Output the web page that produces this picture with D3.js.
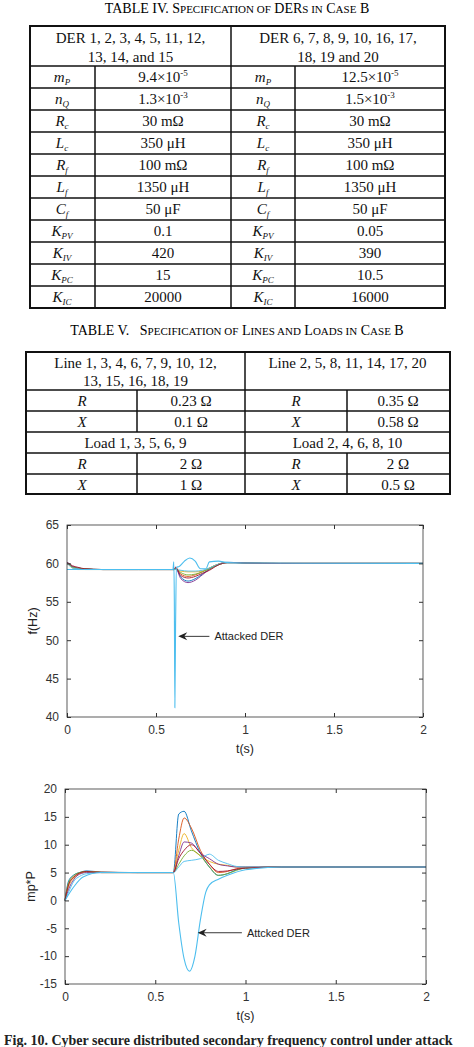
<!DOCTYPE html>
<html><head><meta charset="utf-8">
<script src="https://cdn.jsdelivr.net/npm/d3@7"></script>
<style>body{margin:0;background:#fff}svg{display:block}</style>
</head><body>
<svg id="c" width="474" height="1047"></svg>
<script>
// table IV
const derHeads = [["DER 1, 2, 3, 4, 5, 11, 12,", "13, 14, and 15"], ["DER 6, 7, 8, 9, 10, 16, 17,", "18, 19 and 20"]];
const derSyms = [["m","P"],["n","Q"],["R","c"],["L","c"],["R","f"],["L","f"],["C","f"],["K","PV"],["K","IV"],["K","PC"],["K","IC"]];
const derValsA = [["9.4×10","-5"],["1.3×10","-3"],["30 mΩ"],["350 μH"],["100 mΩ"],["1350 μH"],["50 μF"],["0.1"],["420"],["15"],["20000"]];
const derValsB = [["12.5×10","-5"],["1.5×10","-3"],["30 mΩ"],["350 μH"],["100 mΩ"],["1350 μH"],["50 μF"],["0.05"],["390"],["10.5"],["16000"]];
// table V
const lineHeads = [["Line 1, 3, 4, 6, 7, 9, 10, 12,", "13, 15, 16, 18, 19"], ["Line 2, 5, 8, 11, 14, 17, 20"]];
const lineRows = [["R","0.23 Ω","R","0.35 Ω"],["X","0.1 Ω","X","0.58 Ω"]];
const loadHeads = ["Load 1, 3, 5, 6, 9", "Load 2, 4, 6, 8, 10"];
const loadRows = [["R","2 Ω","R","2 Ω"],["X","1 Ω","X","0.5 Ω"]];

// frequency plot
const tF = [0,0.01,0.03,0.06,0.1,0.2,0.4,0.6,0.61,0.64,0.68,0.72,0.76,0.8,0.85,0.9,0.95,1.0,1.2,2.0];
const fSeries = [
  [60.1,60.0,59.6,59.4,59.3,59.2,59.2,59.2,59.4,58.2,57.7,58.0,58.6,59.3,59.9,60.15,60.1,60.05,60,60],
  [60.0,59.9,59.5,59.3,59.25,59.2,59.2,59.2,59.3,58.6,58.3,58.5,58.9,59.4,59.9,60.1,60.1,60.05,60,60],
  [60.0,59.8,59.4,59.2,59.2,59.2,59.2,59.2,59.2,59.0,58.9,58.9,59.0,59.4,59.9,60.1,60.1,60.05,60,60],
  [60.1,59.9,59.6,59.4,59.3,59.2,59.2,59.2,59.4,58.0,57.5,57.8,58.5,59.2,59.8,60.1,60.1,60.05,60,60],
  [60.0,59.9,59.5,59.4,59.3,59.2,59.2,59.2,59.3,58.8,58.5,58.6,58.9,59.3,59.8,60.1,60.1,60.05,60,60],
  [60.0,59.8,59.4,59.3,59.2,59.2,59.2,59.2,59.2,59.1,59.0,59.0,59.1,59.4,59.9,60.1,60.1,60.05,60,60],
  [60.1,60.0,59.7,59.5,59.3,59.2,59.2,59.2,59.5,58.4,58.1,58.3,58.7,59.1,59.8,60.1,60.1,60.05,60,60]
];
const tFa = [0,0.4,0.595,0.6,0.603,0.606,0.61,0.615,0.63,0.66,0.69,0.72,0.75,0.78,0.8,0.85,0.9,1.0,2.0];
const fAtt = [59.2,59.2,59.2,60.2,55,41.2,52,59.5,59.6,60.3,60.7,60.3,59.3,59.3,60.2,60.3,60.1,60.05,60];

// mp*P plot
const tP = [0,0.02,0.05,0.08,0.12,0.2,0.4,0.6,0.63,0.66,0.7,0.75,0.8,0.85,0.9,0.95,1.0,1.2,1.5,2.0];
const pSeries = [
  [0,3.5,4.6,5.0,5.3,5.1,5.0,5.0,15.5,16.0,12.5,8.5,6.0,4.5,4.8,5.5,5.8,6.0,6.0,6.0],
  [0,3.0,4.3,4.9,5.2,5.1,5.0,5.0,11.0,14.8,13.0,9.0,6.5,5.0,5.2,5.7,5.9,6.0,6.0,6.0],
  [0,2.5,4.0,4.8,5.1,5.0,5.0,5.0,9.0,12.0,9.5,8.0,7.0,6.5,6.3,6.0,6.0,6.0,6.0,6.0],
  [0,2.0,3.8,4.7,5.0,5.0,5.0,5.0,8.0,10.5,10.3,8.5,7.5,6.5,6.2,6.0,6.0,6.0,6.0,6.0],
  [0,3.2,4.5,5.0,5.2,5.0,5.0,5.0,6.5,8.0,9.0,8.0,6.0,4.5,4.8,5.4,5.8,6.0,6.0,6.0],
  [0,1.5,3.5,4.3,4.8,5.0,5.0,5.0,6.0,7.0,7.2,7.5,8.3,7.2,6.6,6.1,6.0,6.0,6.0,6.0],
  [0,2.8,4.2,4.9,5.2,5.0,5.0,5.0,7.5,9.0,10.0,8.5,6.5,5.2,5.3,5.6,5.8,6.0,6.0,6.0]
];
const tPa = [0,0.05,0.1,0.2,0.4,0.6,0.63,0.66,0.69,0.72,0.75,0.78,0.8,0.85,0.9,1.0,1.2,2.0];
const pAtt = [0,2.5,4.2,5.0,5.0,5.0,-4,-10.5,-12.7,-10,-3.5,1.5,2.8,3.8,4.5,5.5,6.0,6.0];

const colors = ["#0072BD","#D95319","#EDB120","#7E2F8E","#77AC30","#4DBEEE","#A2142F"];
const xTicks = [0,0.5,1,1.5,2];

const svg = d3.select("#c");
const serif = "'Liberation Serif', 'DejaVu Serif', serif";
const sans = "'Liberation Sans', Arial, sans-serif";

function cellText(g, x, y, parts, opt) {
  // parts: [main, sub/sup]
  const t = g.append("text").attr("x", x).attr("y", y).attr("text-anchor", "middle")
    .attr("font-family", serif).attr("font-size", 15).attr("fill", "#111");
  if (opt === "sym") {
    t.append("tspan").attr("font-style", "italic").text(parts[0]);
    if (parts[1]) t.append("tspan").attr("font-style", "italic").attr("font-size", 9).attr("dy", 3).text(parts[1]);
  } else {
    t.append("tspan").text(parts[0]);
    if (parts[1]) t.append("tspan").attr("font-size", 9).attr("dy", -6).text(parts[1]);
  }
}

function rect(g, x0, y0, x1, y1, w) {
  return g.append("rect").attr("x", x0).attr("y", y0).attr("width", x1 - x0).attr("height", y1 - y0)
    .attr("fill", "none").attr("stroke", "#111").attr("stroke-width", w);
}

// ---- Table IV
const t4 = svg.append("g");
t4.append("text").attr("x", 237).attr("y", 13).attr("text-anchor", "middle").attr("font-family", serif)
  .attr("font-size", 14).html('TABLE IV. S<tspan font-size="11">PECIFICATION OF</tspan> DER<tspan font-size="11">S IN</tspan> C<tspan font-size="11">ASE</tspan> B');
const y4 = d3.scaleLinear().domain([0, derSyms.length]).range([66, 308]);
rect(t4, 30, 26, 445, 308, 2);
t4.append("line").attr("x1", 231).attr("x2", 231).attr("y1", 26).attr("y2", 308).attr("stroke", "#111").attr("stroke-width", 1.5);
derHeads.forEach((h, i) => {
  const cx = i ? (231 + 445) / 2 : (30 + 231) / 2;
  h.forEach((l, j) => cellText(t4, cx, 43 + j * 19, [l]));
});
derSyms.forEach((s, i) => {
  t4.append("line").attr("x1", 30).attr("x2", 445).attr("y1", y4(i)).attr("y2", y4(i)).attr("stroke", "#111").attr("stroke-width", 1.5);
  const yy = y4(i) + 16;
  cellText(t4, 62, yy, s, "sym");
  cellText(t4, 163, yy, derValsA[i]);
  cellText(t4, 263, yy, s, "sym");
  cellText(t4, 370, yy, derValsB[i]);
});
[95, 295].forEach(x => t4.append("line").attr("x1", x).attr("x2", x).attr("y1", 66).attr("y2", 308).attr("stroke", "#111").attr("stroke-width", 1.5));

// ---- Table V
const t5 = svg.append("g");
t5.append("text").attr("x", 237).attr("y", 335).attr("text-anchor", "middle").attr("font-family", serif)
  .attr("font-size", 14).html('TABLE V.&#160;&#160; S<tspan font-size="11">PECIFICATION OF</tspan> L<tspan font-size="11">INES AND</tspan> L<tspan font-size="11">OADS IN</tspan> C<tspan font-size="11">ASE</tspan> B');
const L = 26, R = 450, M = 245;
rect(t5, L, 352, R, 494, 2);
const hl = y => t5.append("line").attr("x1", L).attr("x2", R).attr("y1", y).attr("y2", y).attr("stroke", "#111").attr("stroke-width", 1.5);
const vl = (x, a, b) => t5.append("line").attr("x1", x).attr("x2", x).attr("y1", a).attr("y2", b).attr("stroke", "#111").attr("stroke-width", 1.5);
vl(M, 352, 494);
lineHeads.forEach((h, i) => h.forEach((l, j) => cellText(t5, i ? (M + R) / 2 : (L + M) / 2, 368 + j * 18, [l])));
const rowsV = [[390, lineRows[0]], [411, lineRows[1]], [453, loadRows[0]], [474, loadRows[1]]];
[390, 411, 432, 453, 474].forEach(hl);
rowsV.forEach(([y, r]) => {
  vl(137, y, y + 21); vl(347, y, y + 21);
  cellText(t5, 82, y + 16, [r[0]], "sym");
  cellText(t5, 191, y + 16, [r[1]]);
  cellText(t5, 296, y + 16, [r[2]], "sym");
  cellText(t5, 398, y + 16, [r[3]]);
});
loadHeads.forEach((h, i) => cellText(t5, i ? (M + R) / 2 : (L + M) / 2, 448, [h]));

// ---- plots
function plot(box, yDom, yTicks, series, tt, att, tta, ylabel, note) {
  const g = svg.append("g");
  const x = d3.scaleLinear().domain([0, 2]).range([box.x0, box.x1]);
  const y = d3.scaleLinear().domain(yDom).range([box.y1, box.y0]);
  const line = d3.line().curve(d3.curveMonotoneX);
  series.forEach((s, i) => {
    g.append("path").attr("d", line(tt.map((t, k) => [x(t), y(s[k])])))
      .attr("fill", "none").attr("stroke", colors[i]).attr("stroke-width", 0.9);
  });
  g.append("path").attr("d", line(tta.map((t, k) => [x(t), y(att[k])])))
    .attr("fill", "none").attr("stroke", "#4DBEEE").attr("stroke-width", 1.1);
  const ax = (a) => a.attr("font-family", sans).attr("font-size", 12).attr("color", "#333")
    .call(s => s.select(".domain").remove());
  g.append("g").attr("transform", `translate(0,${box.y1})`)
    .call(d3.axisBottom(x).tickValues(xTicks).tickFormat(d => String(d)).tickSizeInner(-4).tickPadding(8)).call(ax);
  g.append("g").attr("transform", `translate(0,${box.y0})`)
    .call(d3.axisTop(x).tickValues(xTicks).tickFormat("").tickSizeInner(-4)).call(ax);
  g.append("g").attr("transform", `translate(${box.x0},0)`)
    .call(d3.axisLeft(y).tickValues(yTicks).tickFormat(d => String(d)).tickSizeInner(-4).tickPadding(8)).call(ax);
  g.append("g").attr("transform", `translate(${box.x1},0)`)
    .call(d3.axisRight(y).tickValues(yTicks).tickFormat("").tickSizeInner(-4)).call(ax);
  rect(g, box.x0, box.y0, box.x1, box.y1, 0.8).attr("stroke", "#333");
  g.append("text").attr("x", (box.x0 + box.x1) / 2).attr("y", box.y1 + 36).attr("text-anchor", "middle")
    .attr("font-family", sans).attr("font-size", 12.5).attr("fill", "#222").text("t(s)");
  g.append("text").attr("transform", `translate(${box.x0 - 30},${(box.y0 + box.y1) / 2}) rotate(-90)`)
    .attr("text-anchor", "middle").attr("font-family", sans).attr("font-size", 12.5).attr("fill", "#222").text(ylabel);
  // annotation arrow
  const ax0 = x(note.t0), ax1 = x(note.t1), ay = y(note.v);
  g.append("line").attr("x1", ax1).attr("x2", ax0 + 2).attr("y1", ay).attr("y2", ay).attr("stroke", "#222").attr("stroke-width", 0.9);
  g.append("path").attr("d", `M${ax0},${ay} l9,-4 l-3,4 l3,4 z`).attr("fill", "#222");
  g.append("text").attr("x", ax1 + 5).attr("y", ay + 4).attr("font-family", sans).attr("font-size", 11).attr("fill", "#222").text(note.text);
}

plot({x0: 67, x1: 423, y0: 525, y1: 717}, [40, 65], [40, 45, 50, 55, 60, 65], fSeries, tF, fAtt, tFa, "f(Hz)",
  {t0: 0.625, t1: 0.8, v: 50.5, text: "Attacked DER"});
plot({x0: 65, x1: 426, y0: 789, y1: 984}, [-15, 20], [-15, -10, -5, 0, 5, 10, 15, 20], pSeries, tP, pAtt, tPa, "mp*P",
  {t0: 0.735, t1: 0.98, v: -5.8, text: "Attcked DER"});

svg.append("text").attr("x", 4).attr("y", 1045).attr("font-family", serif).attr("font-size", 14).attr("font-weight", "bold").attr("fill", "#222")
  .text("Fig. 10. Cyber secure distributed secondary frequency control under attack");
</script>
</body></html>
